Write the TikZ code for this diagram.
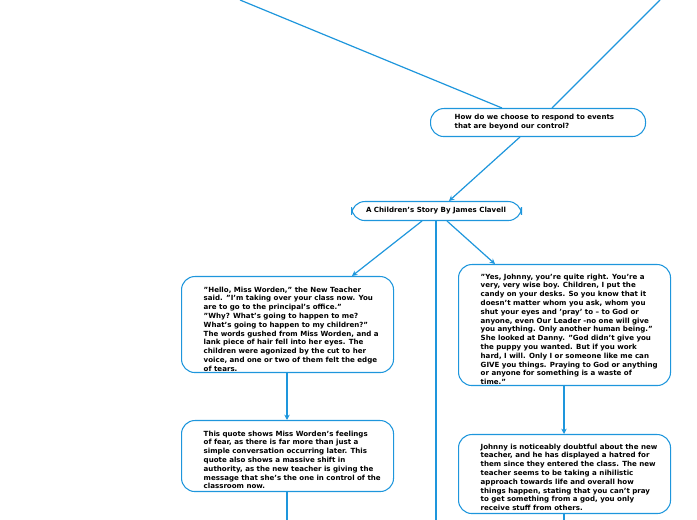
\documentclass[tikz,border=0pt]{standalone}
\usepackage{fontspec}
\setmainfont{DejaVu Sans}
\begin{document}
\begin{tikzpicture}[x=0.75pt,y=-0.75pt,
  c/.style={draw=lnc,line width=0.9pt},
  arr/.style={c,-{Stealth[length=4pt,width=4pt]}},
  box/.style={draw=lnc,line width=0.8pt,rounded corners=10pt,inner sep=0pt,anchor=north west,align=left,font=\fontsize{5.3}{6.6}\selectfont\bfseries,text=black}]
\usetikzlibrary{arrows.meta}
\definecolor{lnc}{HTML}{1E96DC}
\useasboundingbox (0,0) rectangle (697,520);
\node[box,minimum width=215*0.75pt,minimum height=28*0.75pt] (q) at (430,108) {};
\node[anchor=west,font=\fontsize{5.3}{6.6}\selectfont\bfseries,align=left] at (450,122) {How do we choose to respond to events\\that are beyond our control?};
\node[box,minimum width=170*0.75pt,minimum height=19*0.75pt] (t) at (351,201) {};
\node[font=\fontsize{5.3}{6.6}\selectfont\bfseries] at (436,211) {A Children's Story By James Clavell};
\node[box,minimum width=212*0.75pt,minimum height=96*0.75pt] (a) at (181,276) {};
\node[anchor=north west,font=\fontsize{5.3}{6.6}\selectfont\bfseries,align=left] at (199,282) {"Hello, Miss Worden," the New Teacher\\said. "I'm taking over your class now. You\\are to go to the principal's office."\\"Why? What's going to happen to me?\\What's going to happen to my children?"\\The words gushed from Miss Worden, and a\\lank piece of hair fell into her eyes. The\\children were agonized by the cut to her\\voice, and one or two of them felt the edge\\of tears.};
\node[box,minimum width=212*0.75pt,minimum height=71*0.75pt] (b) at (181,420) {};
\node[anchor=north west,font=\fontsize{5.3}{6.6}\selectfont\bfseries,align=left] at (199,426) {This quote shows Miss Worden's feelings\\of fear, as there is far more than just a\\simple conversation occurring later. This\\quote also shows a massive shift in\\authority, as the new teacher is giving the\\message that she's the one in control of the\\classroom now.};
\node[box,minimum width=212*0.75pt,minimum height=121*0.75pt] (cc) at (458,264) {};
\node[anchor=north west,font=\fontsize{5.3}{6.6}\selectfont\bfseries,align=left] at (476,269) {"Yes, Johnny, you're quite right. You're a\\very, very wise boy. Children, I put the\\candy on your desks. So you know that it\\doesn't matter whom you ask, whom you\\shut your eyes and 'pray' to -- to God or\\anyone, even Our Leader -no one will give\\you anything. Only another human being."\\She looked at Danny. "God didn't give you\\the puppy you wanted. But if you work\\hard, I will. Only I or someone like me can\\GIVE you things. Praying to God or anything\\or anyone for something is a waste of\\time."};
\node[box,minimum width=212*0.75pt,minimum height=79*0.75pt] (d) at (458,434) {};
\node[anchor=north west,font=\fontsize{5.3}{6.6}\selectfont\bfseries,align=left] at (476,439) {Johnny is noticeably doubtful about the new\\teacher, and he has displayed a hatred for\\them since they entered the class. The new\\teacher seems to be taking a nihilistic\\approach towards life and overall how\\things happen, stating that you can't pray\\to get something from a god, you only\\receive stuff from others.};
\coordinate (e1) at (240,0);
\coordinate (e2) at (660,0);
\coordinate (f1) at (436,520);
\coordinate (f2) at (287,520);
\coordinate (f3) at (564,520);
\draw[c] (e1) -- (502,108);
\draw[c] (e2) -- (552,108);
\draw[arr] (520,137) -- (449,201);
\draw[arr] (422,221) -- (352,276);
\draw[arr] (447,221) -- (495,264);
\draw[c] (436,221) -- (f1);
\draw[arr] (287,372) -- (287,420);
\draw[c] (287,491) -- (f2);
\draw[arr] (564,385) -- (564,434);
\draw[c] (564,513) -- (f3);
\end{tikzpicture}
\end{document}
